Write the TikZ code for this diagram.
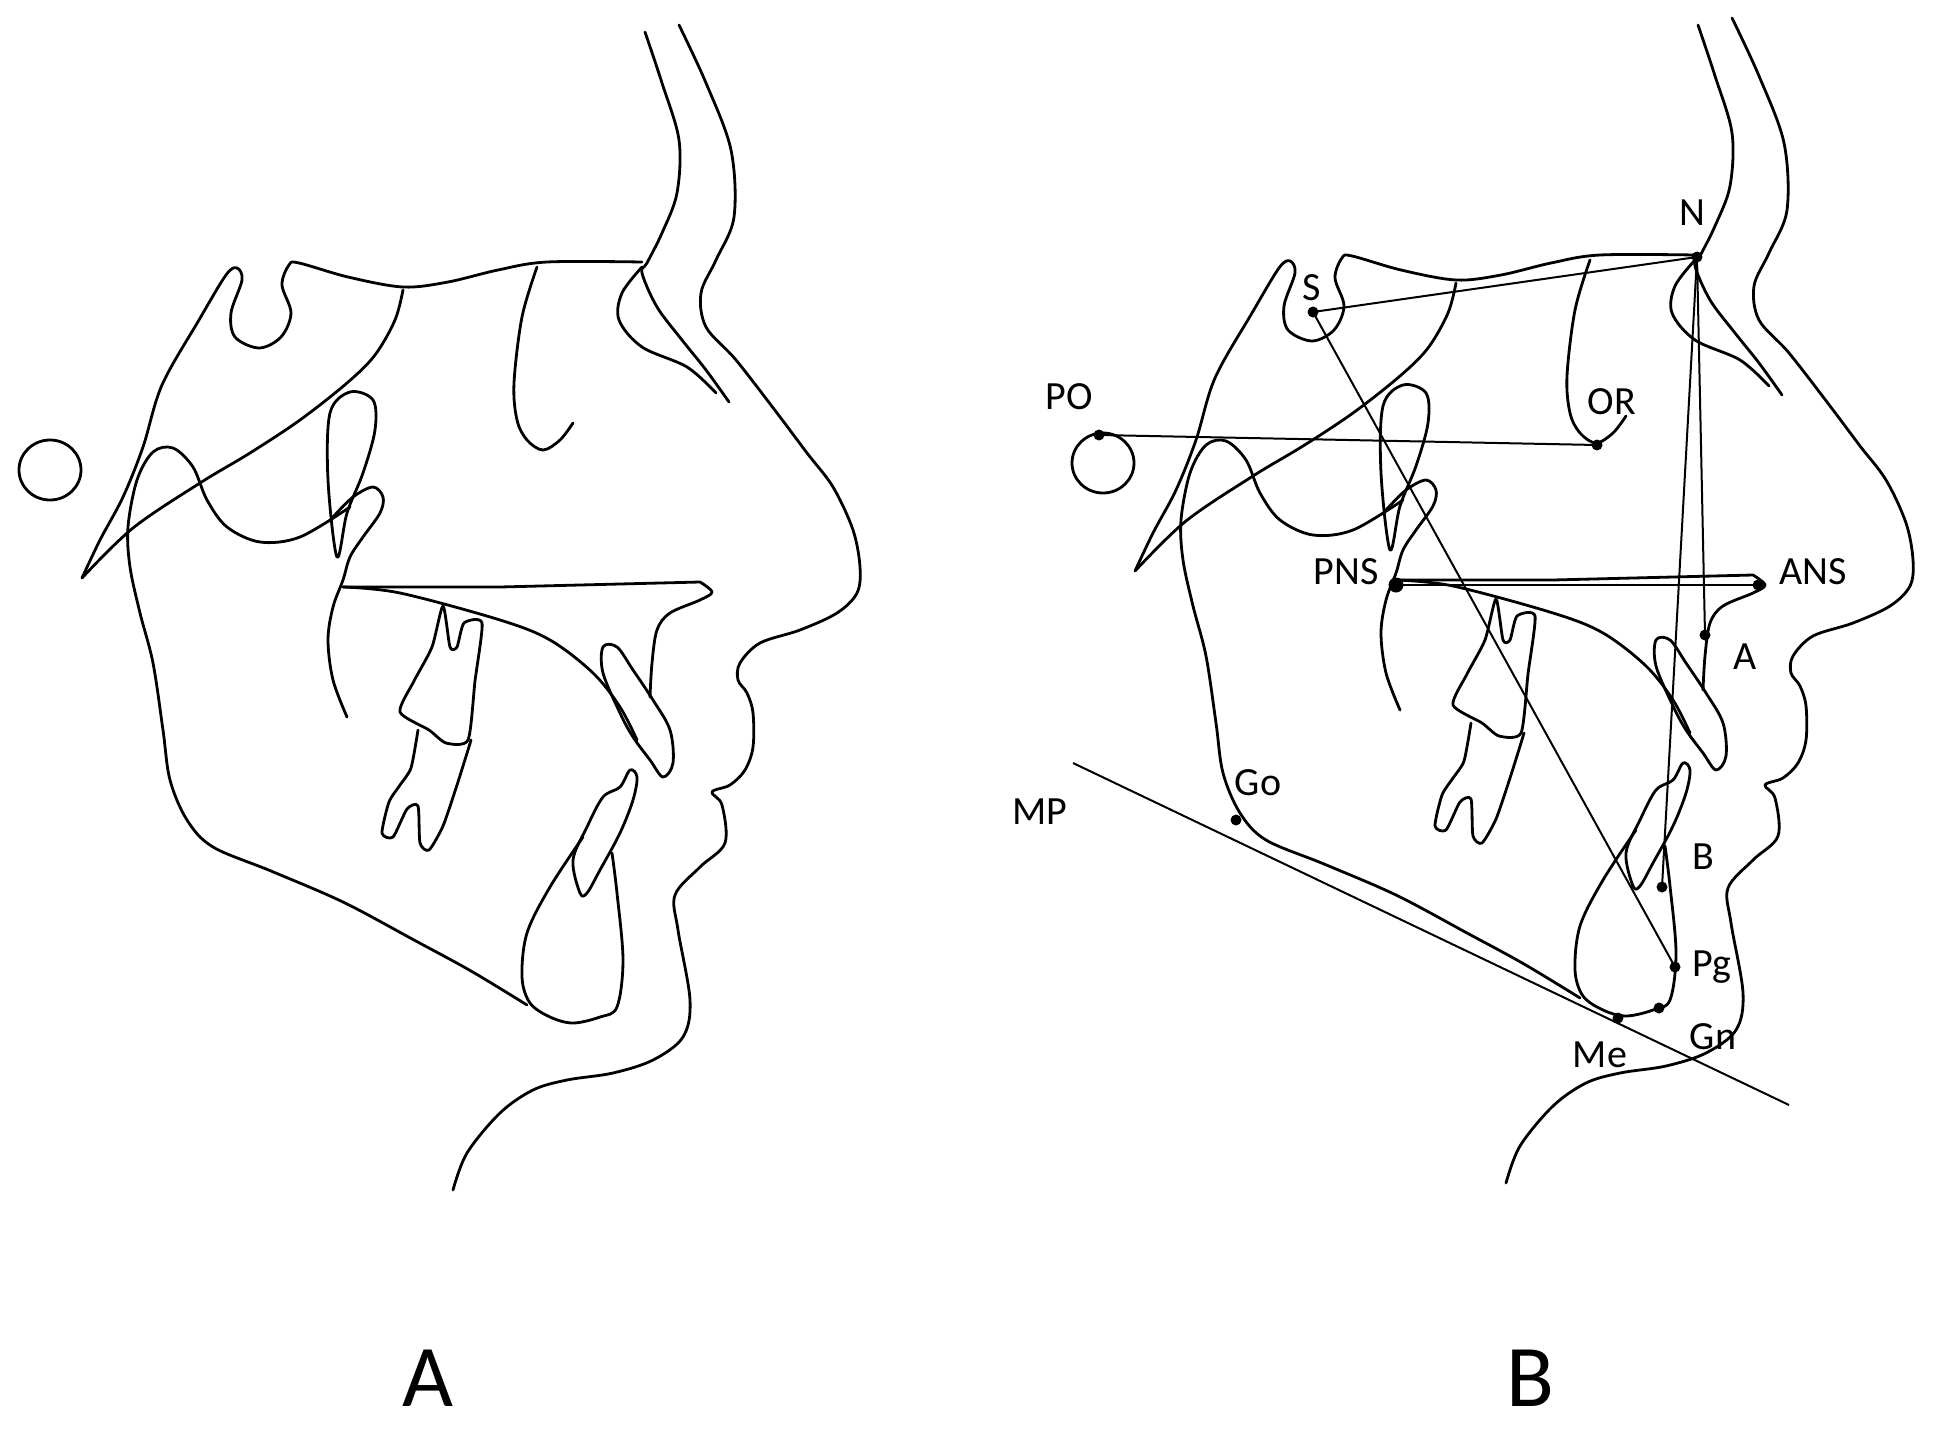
\documentclass[tikz,border=0pt]{standalone}
\usepackage{fontspec}
\setmainfont{Carlito}
\tikzset{tr/.style={line width=2.8pt,line join=round,line cap=round},
 sm/.style={smooth,tension=0.55},
 ln/.style={line width=2pt},
 dt/.style={circle,fill=black,inner sep=0pt,minimum size=11pt},
 lb/.style={font=\fontsize{40}{40}\selectfont,inner sep=1pt},
 big/.style={font=\fontsize{88}{88}\selectfont}}
\newcommand{\skulltrace}{%
\draw[tr] plot[sm] coordinates {(645,32)(662,83)(679,140)(677,193)(662,233)(647,263)(642,273)(657,307)(682,340)(706,370)(729,402)};
\draw[tr] plot[sm] coordinates {(679,25)(706,83)(731,150)(734,217)(716,260)(701,293)(706,327)(736,360)(777,413)(807,453)(833,487)(853,530)(860,567)(857,593)(837,613)(800,630)(760,643)(740,663)(738,680)(747,693)(753,713)(753,747)(745,770)(730,785)(712,792)(722,805)(725,843)(700,867)(675,895)(678,930)(690,1000)(683,1037)(653,1060)(613,1073)(567,1080)(533,1090)(500,1113)(467,1153)(453,1190)};
\draw[tr] plot[sm] coordinates {(642,267)(622,293)(619,320)(642,347)(687,367)(716,393)};
\draw[tr] plot[sm] coordinates {(82,578)(100,540)(123,497)(143,447)(162,385)(199,320)(226,275)(237,268)(242,280)(231,313)(235,337)(259,348)(281,337)(291,313)(282,285)(289,265)(299,263)(348,277)(403,287)(448,282)(498,270)(547,262)(642,262)};
\draw[tr] plot[sm] coordinates {(403,290)(395,320)(375,355)(347,383)(300,420)(250,453)(200,483)(133,528)(82,578)};
\draw[tr] plot[sm] coordinates {(537,267)(522,317)(514,383)(517,420)(527,440)(543,450)(560,440)(573,423)};
\draw[tr] (50,470) ellipse[x radius=31,y radius=30];
\draw[tr] plot[sm] coordinates {(350,507)(300,537)(260,542)(227,527)(207,500)(193,467)(173,448)(153,452)(137,480)(128,527)(130,567)(140,613)(153,663)(163,730)(170,780)(187,820)(213,847)(271,871)(343,902)(414,940)(471,971)(527,1005)};
\draw[tr] plot[smooth cycle,tension=0.55] coordinates {(337,557)(328,480)(330,413)(350,392)(373,400)(375,430)(363,473)(347,513)};
\draw[tr] plot[sm] coordinates {(333,517)(353,497)(373,487)(383,497)(380,513)(363,537)(350,557)(343,580)(333,607)(328,640)(333,680)(347,717)};
\draw[tr] (343,587) -- (500,587) -- (700,582) plot[sm] coordinates {(700,582)(712,592)(700,600)(670,613)(657,630)(652,663)(650,697)};
\draw[tr] plot[sm] coordinates {(343,587)(400,593)(500,620)(550,640)(593,673)(620,707)(637,740)};
\draw[tr] plot[smooth cycle,tension=0.55] coordinates {(603,647)(617,647)(633,670)(653,700)(670,730)(673,763)(663,777)(650,760)(633,737)(620,713)(603,673)};
\draw[tr] plot[smooth cycle,tension=0.4] coordinates {(443,606)(450,647)(457,647)(464,623)(482,623)(475,681)(468,740)(446,743)(429,730)(400,712)(414,681)(432,647)};
\draw[tr] plot[smooth,tension=0.4] coordinates {(418,730)(411,768)(400,785)(389,802)(382,833)(393,837)(407,809)(418,806)(420,843)(429,850)(443,826)(457,785)(468,750)(471,740)};
\draw[tr] plot[smooth cycle,tension=0.55] coordinates {(580,893)(573,860)(587,827)(603,797)(620,787)(630,770)(637,777)(633,800)(620,833)(600,870)(587,893)};
\draw[tr] plot[sm] coordinates {(612,853)(617,893)(623,960)(617,1007)(600,1017)(573,1023)(550,1017)(530,1003)(522,977)(527,933)(550,887)(583,837)};
}
\begin{document}
\begin{tikzpicture}[x=1pt,y=-1pt]
\useasboundingbox (0,0) rectangle (1938,1440);
\fill[white] (0,0) rectangle (1938,1440);
\skulltrace
\begin{scope}[shift={(1053,-7)}]
\skulltrace
\end{scope}
% landmarks
\node[dt] (S) at (1313,312) {};
\node[dt] (N) at (1697,257) {};
\node[dt] (PO) at (1099,435) {};
\node[dt] (OR) at (1597,445) {};
\node[dt,minimum size=15pt] (PNS) at (1396,585) {};
\node[dt] (ANS) at (1758,585) {};
\node[dt] (A) at (1705,635) {};
\node[dt] (Go) at (1236,820) {};
\node[dt] (B) at (1662,887) {};
\node[dt] (Pg) at (1675,967) {};
\node[dt] (Me) at (1618,1018) {};
\node[dt] (X) at (1659,1008) {};
\coordinate (MP1) at (1073,763);
\coordinate (MP2) at (1789,1105);
\draw[ln] (S.center) -- (N.center);
\draw[ln] (PO.center) -- (OR.center);
\draw[ln] (PNS.center) -- (ANS.center);
\draw[ln] (N.center) -- (A.center);
\draw[ln] (N.center) -- (B.center);
\draw[ln] (S.center) -- (Pg.center);
\draw[ln] (MP1) -- (MP2);
\node[lb] (lS) at (1312,288) {S};
\node[lb] (lN) at (1692,213) {N};
\node[lb] (lPO) at (1069,397) {PO};
\node[lb] (lOR) at (1612,402) {OR};
\node[lb] (lPNS) at (1346,572) {PNS};
\node[lb] (lANS) at (1813,572) {ANS};
\node[lb] (lA) at (1745,657) {A};
\node[lb] (lGo) at (1258,783) {Go};
\node[lb] (lMP) at (1040,812) {MP};
\node[lb] (lB) at (1703,857) {B};
\node[lb] (lPg) at (1712,967) {Pg};
\node[lb] (lGn) at (1713,1037) {Gn};
\node[lb] (lMe) at (1600,1055) {Me};
\node[big] (capA) at (428,1378) {A};
\node[big] (capB) at (1530,1378) {B};
\end{tikzpicture}
\end{document}
